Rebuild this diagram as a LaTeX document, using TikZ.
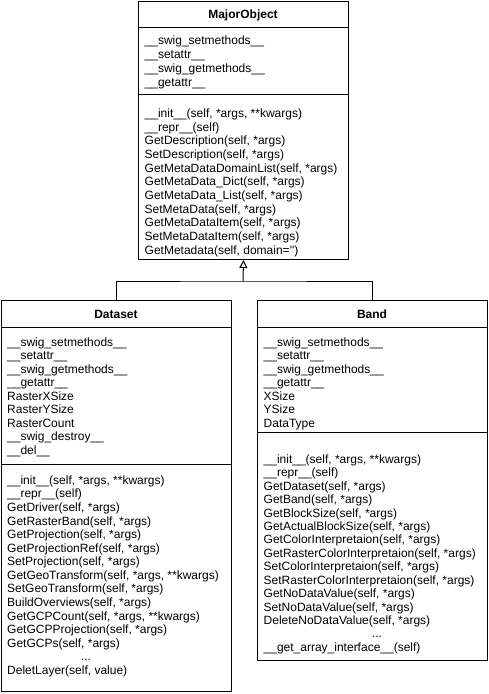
\documentclass[tikz,border=0pt]{standalone}
\usepackage{fontspec}
\setmainfont{Liberation Sans}
\usetikzlibrary{arrows.meta}
\newcommand\dus{\_\_}
\begin{document}
\begin{tikzpicture}[x=1pt,y=-1pt,
  boxline/.style={draw=black,line width=1pt},
  classbox/.style={boxline,anchor=north west,inner sep=0pt,fill=white},
  txt/.style={anchor=west,inner sep=0pt,text height=8.6pt,text depth=0pt,font=\fontsize{12}{13.6}\selectfont},
  ttl/.style={anchor=center,inner sep=0pt,text height=8.6pt,text depth=0pt,font=\fontsize{12}{13.6}\selectfont\bfseries},
  dots/.style={txt,anchor=center}
]
\useasboundingbox (0,0) rectangle (489,694);
\fill[white] (0,0) rectangle (489,694);

% ---------------- MajorObject ----------------
\node[classbox,minimum width=210pt,minimum height=258pt] (mo) at (138,1) {};
\draw[boxline] (mo.west |- 0,27) -- (mo.east |- 0,27);
\draw[boxline] (mo.west |- 0,94) -- (mo.east |- 0,94);
\node[ttl] (mo-t) at (243,14) {MajorObject};
\foreach \t [count=\i from 0] in {{\dus swig\_setmethods\dus},{\dus setattr\dus},{\dus swig\_getmethods\dus},{\dus getattr\dus}}
  \node[txt] (mo-a-\i) at (144.5,40+\i*14) {\t};
\foreach \t [count=\i from 0] in {{\dus init\dus(self, *args, **kwargs)},{\dus repr\dus(self)},{GetDescription(self, *args)},{SetDescription(self, *args)},{GetMetaDataDomainList(self, *args)},{GetMetaData\_Dict(self, *args)},{GetMetaData\_List(self, *args)},{SetMetaData(self, *args)},{GetMetaDataItem(self, *args)},{SetMetaDataItem(self, *args)},{GetMetadata(self, domain=\textquotesingle\textquotesingle)}}
  \node[txt] (mo-m-\i) at (144.5,113+\i*13.7) {\t};

% ---------------- Dataset ----------------
\node[classbox,minimum width=230pt,minimum height=391pt] (ds) at (1,300) {};
\draw[boxline] (ds.west |- 0,327) -- (ds.east |- 0,327);
\draw[boxline] (ds.west |- 0,464) -- (ds.east |- 0,464);
\node[ttl] (ds-t) at (116,314) {Dataset};
\foreach \t [count=\i from 0] in {{\dus swig\_setmethods\dus},{\dus setattr\dus},{\dus swig\_getmethods\dus},{\dus getattr\dus},{RasterXSize},{RasterYSize},{RasterCount},{\dus swig\_destroy\dus},{\dus del\dus}}
  \node[txt] (ds-a-\i) at (7,342+\i*13.5) {\t};
\foreach \t [count=\i from 0] in {{\dus init\dus(self, *args, **kwargs)},{\dus repr\dus(self)},{GetDriver(self, *args)},{GetRasterBand(self, *args)},{GetProjection(self, *args)},{GetProjectionRef(self, *args)},{SetProjection(self, *args)},{GetGeoTransform(self, *args, **kwargs)},{SetGeoTransform(self, *args)},{BuildOverviews(self, *args)},{GetGCPCount(self, *args, **kwargs)},{GetGCPProjection(self, *args)},{GetGCPs(self, *args)}}
  \node[txt] (ds-m-\i) at (7,480+\i*13.57) {\t};
\node[dots] (ds-dots) at (86,480+13*13.57) {...};
\node[txt] (ds-last) at (7,480+14*13.57) {DeletLayer(self, value)};

% ---------------- Band ----------------
\node[classbox,minimum width=230pt,minimum height=360pt] (bd) at (257,300) {};
\draw[boxline] (bd.west |- 0,327) -- (bd.east |- 0,327);
\draw[boxline] (bd.west |- 0,432) -- (bd.east |- 0,432);
\node[ttl] (bd-t) at (372,314) {Band};
\foreach \t [count=\i from 0] in {{\dus swig\_setmethods\dus},{\dus setattr\dus},{\dus swig\_getmethods\dus},{\dus getattr\dus},{XSize},{YSize},{DataType}}
  \node[txt] (bd-a-\i) at (263.5,342+\i*13.5) {\t};
\foreach \t [count=\i from 0] in {{\dus init\dus(self, *args, **kwargs)},{\dus repr\dus(self)},{GetDataset(self, *args)},{GetBand(self, *args)},{GetBlockSize(self, *args)},{GetActualBlockSize(self, *args)},{GetColorInterpretaion(self, *args)},{GetRasterColorInterpretaion(self, *args)},{SetColorInterpretaion(self, *args)},{SetRasterColorInterpretaion(self, *args)},{GetNoDataValue(self, *args)},{SetNoDataValue(self, *args)},{DeleteNoDataValue(self, *args)}}
  \node[txt] (bd-m-\i) at (263.5,459+\i*13.43) {\t};
\node[dots] (bd-dots) at (377,459+13*13.43) {...};
\node[txt] (bd-last) at (263.5,459+14*13.43) {\dus get\_array\_interface\dus(self)};

% ---------------- Inheritance connector ----------------
\coordinate (j) at (243,281);
\draw[boxline,-{Triangle[open,length=8pt,width=8pt]}] (j) -- (mo.south);
\draw[boxline] (ds.north) |- (j) -| (bd.north);
\end{tikzpicture}
\end{document}
